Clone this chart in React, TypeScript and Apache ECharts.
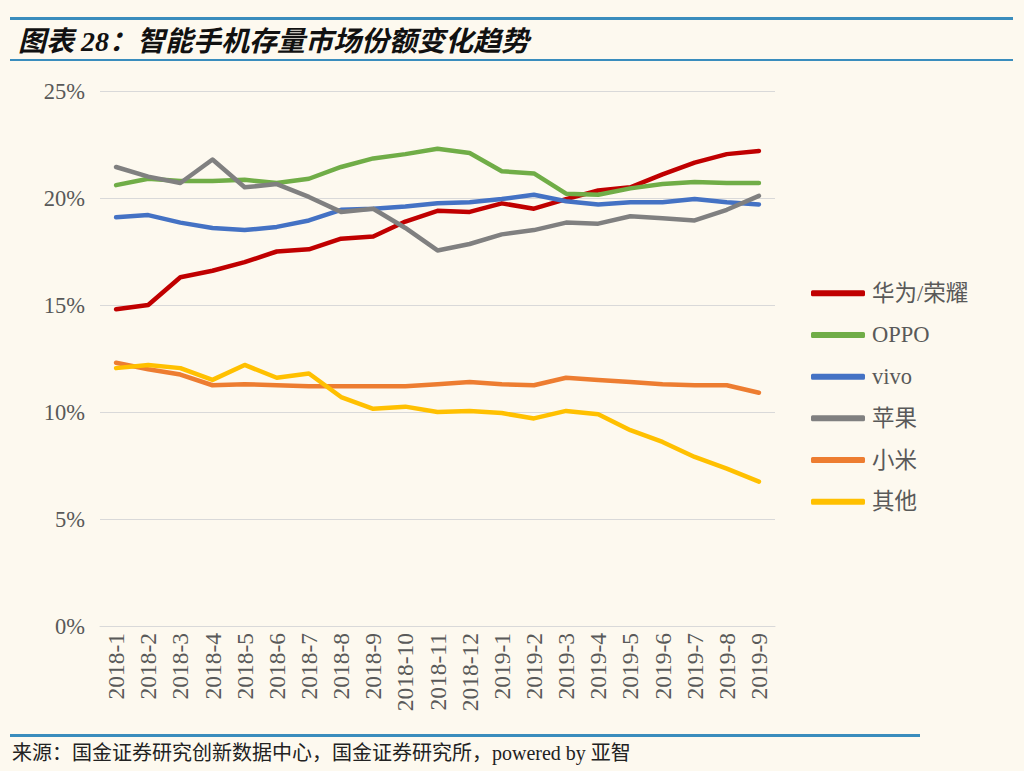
import React, { useEffect, useRef } from "react";
import * as echarts from "echarts";

const categories = [
  "2018-1", "2018-2", "2018-3", "2018-4", "2018-5", "2018-6", "2018-7",
  "2018-8", "2018-9", "2018-10", "2018-11", "2018-12", "2019-1", "2019-2",
  "2019-3", "2019-4", "2019-5", "2019-6", "2019-7", "2019-8", "2019-9",
];

const huawei = [14.8, 15.0, 16.3, 16.6, 17.0, 17.5, 17.6, 18.1, 18.2, 18.9, 19.4, 19.35, 19.75, 19.5, 19.95, 20.35, 20.5, 21.1, 21.65, 22.05, 22.2];
const oppo = [20.6, 20.9, 20.8, 20.8, 20.85, 20.7, 20.9, 21.45, 21.85, 22.05, 22.3, 22.1, 21.25, 21.15, 20.2, 20.15, 20.45, 20.65, 20.75, 20.7, 20.7];
const vivo = [19.1, 19.2, 18.85, 18.6, 18.5, 18.65, 18.95, 19.45, 19.5, 19.6, 19.75, 19.8, 19.95, 20.15, 19.85, 19.7, 19.8, 19.8, 19.95, 19.8, 19.7];
const apple = [21.45, 21.0, 20.7, 21.8, 20.5, 20.65, 20.05, 19.35, 19.5, 18.6, 17.55, 17.85, 18.3, 18.5, 18.85, 18.8, 19.15, 19.05, 18.95, 19.45, 20.1];
const xiaomi = [12.3, 12.0, 11.75, 11.25, 11.3, 11.25, 11.2, 11.2, 11.2, 11.2, 11.3, 11.4, 11.3, 11.25, 11.6, 11.5, 11.4, 11.3, 11.25, 11.25, 10.9];
const others = [12.05, 12.2, 12.05, 11.5, 12.2, 11.6, 11.8, 10.7, 10.15, 10.25, 10.0, 10.05, 9.95, 9.7, 10.05, 9.9, 9.15, 8.6, 7.9, 7.35, 6.75];

const seriesNames = ["华为/荣耀", "OPPO", "vivo", "苹果", "小米", "其他"];
const seriesColors = ["#C00000", "#70AD47", "#4472C4", "#808080", "#ED7D31", "#FFC000"];
const seriesData = [huawei, oppo, vivo, apple, xiaomi, others];

const yTicks = { min: 0, max: 25, interval: 5 };

const titleText = "图表 28：智能手机存量市场份额变化趋势";
const sourceText = "来源：国金证券研究创新数据中心，国金证券研究所，powered by 亚智";

const SERIF = '"Liberation Serif", "Times New Roman", "Noto Sans CJK SC", serif';

export default function App() {
  const ref = useRef<HTMLDivElement>(null);

  useEffect(() => {
    document.body.style.margin = "0";
    const chart = echarts.init(ref.current!, undefined, { renderer: "svg" });
    chart.setOption({
      animation: false,
      backgroundColor: "#FDF9EF",
      title: {
        text: titleText,
        left: 13,
        top: 22,
        textStyle: {
          fontFamily: SERIF,
          fontSize: 28,
          fontWeight: "bold",
          fontStyle: "italic",
          color: "#111",
        },
      },
      graphic: [
        { type: "rect", shape: { x: 10, y: 17, width: 1003, height: 3 }, style: { fill: "#3A8DBD" } },
        { type: "rect", shape: { x: 10, y: 59, width: 1003, height: 2 }, style: { fill: "#3A8DBD" } },
        { type: "rect", shape: { x: 10, y: 734, width: 910, height: 3 }, style: { fill: "#3A8DBD" } },
        {
          type: "text",
          left: 12,
          top: 743,
          style: { text: sourceText, fontFamily: SERIF, fontSize: 20, fill: "#222" },
        },
      ],
      legend: {
        orient: "vertical",
        left: 806,
        top: 277,
        itemWidth: 54,
        itemHeight: 6,
        itemGap: 19.2,
        icon: "roundRect",
        data: seriesNames,
        textStyle: { fontFamily: SERIF, fontSize: 22.5, color: "#595959", padding: [0, 0, 0, 2] },
      },
      grid: { left: 100, right: 249, top: 91, bottom: 145, containLabel: false },
      xAxis: {
        type: "category",
        data: categories,
        boundaryGap: true,
        axisLine: { show: true, lineStyle: { color: "#D9D9D9", width: 1 } },
        axisTick: { show: false },
        axisLabel: {
          rotate: 90,
          interval: 0,
          margin: 7,
          fontFamily: SERIF,
          fontSize: 23.5,
          color: "#595959",
        },
      },
      yAxis: {
        type: "value",
        min: yTicks.min,
        max: yTicks.max,
        interval: yTicks.interval,
        axisLine: { show: false },
        axisTick: { show: false },
        splitLine: { lineStyle: { color: "#D9D9D9", width: 1 } },
        axisLabel: {
          formatter: "{value}%",
          margin: 15,
          fontFamily: SERIF,
          fontSize: 22.5,
          color: "#595959",
        },
      },
      series: seriesNames.map((name, i) => ({
        name,
        type: "line",
        data: seriesData[i],
        symbol: "none",
        lineStyle: { width: 4.5, color: seriesColors[i], cap: "round", join: "round" },
        itemStyle: { color: seriesColors[i] },
      })),
    });
    return () => chart.dispose();
  }, []);

  return <div ref={ref} style={{ width: 1024, height: 771 }} />;
}
